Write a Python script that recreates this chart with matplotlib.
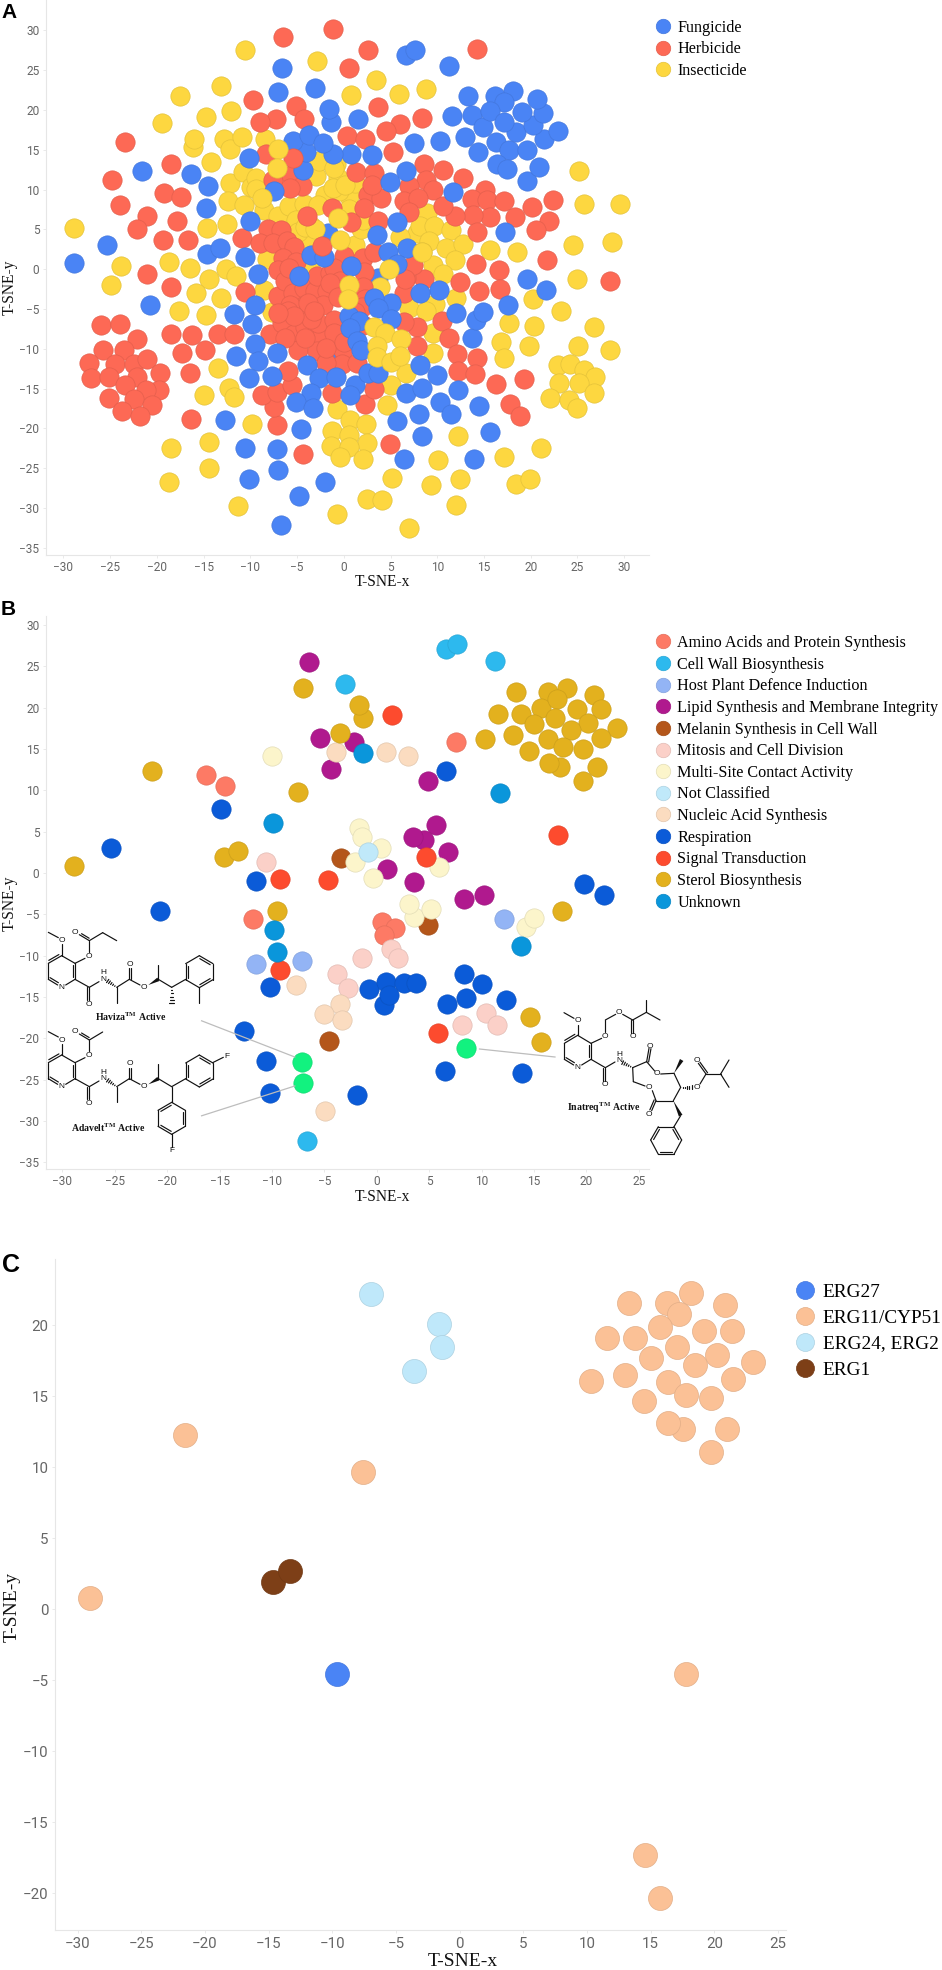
import matplotlib
matplotlib.use("Agg")
import matplotlib.pyplot as plt
from matplotlib.lines import Line2D
from matplotlib.patches import Polygon

plt.rcParams['mathtext.fontset'] = 'stix'
W, H = 942, 1970
SERIF = 'Liberation Serif'
TICKF = 'Roboto'

# ---------- Panel A data ----------
fungicide_under = [(-1.1,-10.2),(-0.6,-0.4),(-1.7,4.6),(3.7,-1.1)]
insecticide = [(-10.6,27.5),(-2.9,26.1),(-13.1,23.0),(-17.5,21.7),(0.8,21.9),(3.4,23.7),(5.9,22.0),(8.8,22.6),(-19.5,18.3),
 (-14.8,19.1),(-12.1,19.8),(-16.1,15.3),(-16.0,16.4),(-12.8,16.4),(-12.2,15.1),(-10.9,16.6),(-8.4,16.3),(-14.2,13.4),
 (-12.2,10.8),(-10.8,12.2),(-9.9,10.3),(-12.4,8.5),(-10.7,8.0),(-12.5,5.7),(-14.6,5.2),(-8.5,7.4),(-7,6.7),(-5.9,7.9),
 (-4.3,8.2),(-5.1,6.2),(-3.5,5.4),(-3.8,3.5),(-3.0,11.7),(-2.7,13.6),(-0.6,11.5),(-0.8,13.2),(-2.0,9.3),(0.6,9.2),(-0.5,9.8),
 (0.5,7.6),(1.2,3.0),(1.8,5.0),(-1.1,12.7),(-4.9,4.7),(2.1,6.2),(1.2,10.8),(7.8,4.5),(-3.6,0.3),
 (-2.75,8.1),(-1.15,10.2),(0.1,10.6),(-4.2,5.3),(-9.4,11.4),(-3.1,5.1),(-9.4,10.1),
 (-28.9,5.2),(-23.8,0.4),(-24.9,-2.0),(-18.7,0.9),(-16.5,0.1),(-12.6,0),(-11.5,-0.9),(-14.4,-1.3),(-15.8,-3.0),(-13.1,-3.6),
 (-17.6,-5.2),(-14.7,-5.8),(-8.5,-2.6),(-7.7,-5.4),(-8.2,1.3),(3.9,-2.3),(8.9,7.1),(8.1,5.4),(9.7,5.4),(11.5,4.9),(6.0,4.0),
 (9.1,3.5),(10.9,2.6),(12.7,3.2),(11.9,1.1),(8.4,2.1),(9.5,0.5),(10.6,-0.6),(15.6,2.4),(18.5,2.1),(24.5,3.0),(28.7,3.4),
 (29.5,8.2),(25.7,8.2),(25.2,12.3),(25.0,-1.3),(20.2,-3.8),(23.2,-5.3),(20.4,-7.2),(26.8,-7.3),(17.7,-6.8),(16.8,-9.1),
 (19.8,-9.7),(17.1,-11.2),(25.1,-9.7),(28.5,-10.2),(12.0,-3.6),(9.8,-4.4),(7.0,-4.9),(8.8,-5.3),(9.5,-8.0),(9.5,-10.5),
 (22.9,-12.0),(24.2,-11.9),(25.7,-12.7),(26.9,-13.6),(23,-14.3),(25.2,-14.3),(26.8,-15.5),(22.1,-16.2),(24.1,-16.4),(25.0,-17.5),
 (6.6,-13.1),(5.0,-14.5),(4.6,-17.1),(-13.5,-12.4),(-12.3,-14.9),(-11.7,-16.1),(-15.0,-15.8),(-18.5,-22.5),(-18.7,-26.7),
 (-14.4,-21.7),(-14.4,-25.0),(-11.3,-29.8),(-9.8,-19.5),(-0.7,-17.6),(0.7,-18.9),(2.4,-19.5),(-1.3,-20.3),(0.6,-20.8),(2.5,-21.8),
 (-1.4,-22.2),(0.6,-22.3),(-0.4,-23.6),(2.1,-23.9),(-0.7,-30.7),(2.5,-28.9),(4.1,-29.0),(5.2,-26.2),(7.0,-32.5),(9.3,-27.1),
 (10.1,-24.0),(12.4,-26.4),(12.0,-29.6),(12.2,-20.9),(17.1,-23.6),(18.4,-27.0),(19.9,-26.3),(21.1,-22.4)]
herbicide = [(-1.2,30.1),(-6.5,29.2),(2.6,27.5),(14.2,27.6),(0.6,25.3),(-9.7,21.2),(-5.1,20.5),(-4.3,18.9),(-7.3,18.8),(-9.0,18.5),
 (3.7,20.3),(8.4,19.0),(6.0,18.2),(4.5,17.4),(0.3,16.7),(2.3,16.4),(5.3,14.7),(-23.4,16.0),(-18.5,13.2),(-24.8,11.2),(-19.2,9.6),
 (-17.4,9.1),(-24.0,8.0),(-21.1,6.7),(-22.1,5.1),(-17.9,6.1),(-19.4,3.7),(-16.7,3.7),(-10.9,3.9),(-21.1,-0.6),(-18.5,-2.2),(-10.6,-2.9),
 (-8.3,14.4),(8.6,13.2),(10.6,12.4),(12.8,11.4),(1.3,12.2),(3.2,12.1),(8.8,11.2),(7.0,10.4),(9.5,9.9),(15.1,10.0),(13.7,8.8),(15.3,8.7),
 (17.1,8.6),(22.4,8.7),(20.1,7.8),(18.3,6.6),(15.6,6.6),(13.8,6.8),(11.9,6.7),(10.6,7.9),(22.0,6.0),(20.6,4.9),(14.2,4.7),(21.7,1.2),
 (14.1,0.7),(16.6,-0.1),(28.5,-1.5),(16.7,-2.5),(14.5,-2.7),(12.4,-1.6),(8.6,-1.2),(6.7,-1.1),(6.4,-3.0),(10.5,-6.5),(7.8,-7.3),
 (11.3,-8.6),(12.1,-10.7),(14.2,-11.2),(12.2,-12.8),(14.0,-13.2),(7.8,-9.7),(16.3,-14.4),(19.3,-13.8),(17.8,-16.9),(18.9,-18.4),
 (4.9,-21.9),(-4.4,-23.2),(-7.1,-19.6),(-16.4,-18.8),(-7.5,-17.3),(-8.8,-15.8),(-7.1,-15.4),(-5.5,-14.5),(-6.0,-12.8),(-1.3,-15.5),
 (2.3,-16.9),(3.2,-15.1),(-26.0,-7.0),(-23.9,-6.9),(-22.1,-8.8),(-18.5,-8.2),(-16.2,-8.3),(-13.5,-8.1),(-11.7,-8.2),(-7.9,-8.2),
 (-25.8,-10.2),(-23.5,-10.2),(-27.3,-11.8),(-24.5,-11.9),(-22.5,-11.9),(-21.1,-11.3),(-17.3,-10.5),(-14.9,-10.1),(-19.7,-13.1),
 (-16.5,-13.1),(-27.0,-13.7),(-25.1,-13.6),(-22.1,-13.5),(-23.4,-14.6),(-19.8,-15.2),(-21.2,-15.2),(-25.1,-16.2),(-22.5,-16.3),
 (-20.5,-17.0),(-23.7,-17.8),(-21.8,-18.5),
 (-7.6,11.2),(-5.6,11.8),(-4.5,10.4),(-5.8,10.2),(-1.3,7.7),(0.8,5.9),(2.6,9.3),(4.0,8.9),(2.2,7.7),(3.7,6.1),(3.0,10.6),(6.4,8.6),
 (7.9,8.9),(7.0,7.2),(-8.1,5.1),(-6.7,4.9),(-9.0,3.3),(-7.6,3.3),(-6.1,3.5),(-5.3,2.8),(-6.5,1.4),(-5.1,0.9),(-7.0,-0.1),(0,1.6),
 (2.0,1.4),(3.2,2.2),(2.2,-0.3),(7.4,0.5),(6.5,-1.3),(-7.0,-3.4),(-6.3,-1.5),(-5.4,-3.0),(-4.3,-2.4),(-3.1,-2.8),(-2.9,-0.9),
 (-1.75,-2.8),(-1.5,-0.5),(-2.2,-4.5),(-4.2,-4.5),(-5.8,-4.5),(2.1,-2.2),(2.3,-3.8),(-6.6,-6.8),(-5.3,-8.2),(-4.2,-7.3),(-2.5,-8.7),
 (-2.8,-6.8),(-1.1,-6.4),(-4.9,-10.1),(-2.9,-10.3),(-0.1,-10.1),(-0.2,-11.9),(-1.9,-11.8),(1.4,-11.8),(-1,-8.0),(6.4,-6.6),(1.9,-4.7),
 (-1.1,0.1),(-0.4,-1.5),(-3.8,-4.3),(-1.5,-1.8),(-6.3,-8.7),(-4.2,-8.7),(-1.9,-9.9),(-3.5,-6.2),(-6,-5.3),(0,-9.1),(-3.2,-5.3),(-5.3,-5.9),
 (-7.0,-5.5),(-5.9,0.1),(1.2,-5.4),(2.0,-7.0),(-0.6,-3.5)]
fungicide = [(-28.9,0.8),(-25.3,3.0),(-21.6,12.3),(-20.7,-4.5),(-16.4,11.9),(-14.5,10.5),(-14.8,7.7),(-14.6,1.9),(-13.2,2.6),(-10.6,1.5),
 (-10.0,6.0),(-10.1,14.0),(-7.5,9.8),(-9.2,-0.6),(-9.5,-4.5),(-11.8,-5.6),(-9.8,-6.9),(-9.5,-9.4),(-11.5,-10.9),(-9.2,-11.5),(-7.2,-10.5),
 (-10.2,-13.7),(-7.7,-13.4),(-3.9,-12.0),(-2.7,-13.7),(-0.8,-13.6),(1.2,-14.5),(2.6,-13.1),(3.7,-13.1),(0.7,-15.8),(-3.5,-15.6),(-5.1,-16.7),
 (-3.3,-17.5),(-4.6,-20.1),(-12.7,-19.0),(-10.6,-22.5),(-7.2,-22.6),(-7.0,-25.2),(-10.2,-26.3),(-2.0,-26.7),(-4.8,-28.5),(-6.7,-32.1),
 (6.4,-23.8),(8.4,-21.0),(5.7,-19.1),(8.0,-18.2),(10.3,-16.7),(11.5,-18.2),(14.5,-17.2),(13.9,-23.8),(15.6,-20.4),(6.7,-15.6),(8.4,-14.9),
 (12.2,-15.2),(10.0,-13.3),(8.2,-12.1),(13.7,-8.6),(14.1,-6.4),(14.9,-5.4),(17.6,-4.5),(19.6,-1.3),(21.6,-2.6),(17.2,4.7),(12.0,-5.5),
 (10.2,-2.6),(8.2,-3.0),(5.1,-4.3),(3.2,-3.6),(3.7,-4.9),(5.0,-6.3),(0.5,-5.9),(1.6,-6.5),(0.7,-7.4),(1.4,-9.0),(1.8,-10.2),(-4.8,-0.8),
 (-3.5,1.8),(-2.1,1.5),(3.5,4.3),(5.7,5.9),(6.8,2.6),(4.7,2.1),(5.7,0.6),(0.8,0.4),(4.9,10.9),(6.6,12.3),(11.7,9.7),(7.5,15.8),(10.3,16.1),
 (3.0,14.3),(0.8,14.5),(-1.2,14.4),(-4.4,12.5),(-4.0,14.7),(-5.4,16.1),(-3.7,16.8),(-2.2,15.9),(-1.4,18.5),(-1.6,20.1),(1.5,18.9),(-7.0,22.3),
 (-3.1,22.8),(-6.6,25.3),(6.6,26.9),(7.6,27.5),(11.2,25.5),(11.6,19.2),(13.3,21.7),(13.7,19.3),(14.9,17.8),(13.0,16.6),(14.4,14.7),(16.3,16.0),
 (17.7,15.0),(19.6,15.0),(21.4,16.3),(18.4,17.2),(20.2,18.1),(22.9,17.4),(21.3,19.6),(19.1,19.7),(20.7,21.4),(18.1,22.4),(16.2,21.7),(17.1,21.0),
 (15.6,19.9),(17.1,18.5),(16.4,13.2),(17.5,12.6),(19.6,11.1),(20.9,12.8)]
herbicide_over = [(-5.4,13.9),(-3.9,6.7),(-2.3,2.9)]
insecticide_over = [(-7.0,15.1),(-7.1,12.7),(-8.8,8.9),(-0.6,6.4),(-0.4,3.6),(8.4,2.2),(4.8,0),(0.5,-2.0),(0.4,-3.7),(3.2,-7.3),(4.4,-8.0),
 (6.1,-8.8),(3.6,-9.7),(3.6,-11.0),(5.0,-11.7),(6.0,-10.9)]

# ---------- Panel B data ----------
moa_names = ['Amino Acids and Protein Synthesis','Cell Wall Biosynthesis','Host Plant Defence Induction','Lipid Synthesis and Membrane Integrity',
 'Melanin Synthesis in Cell Wall','Mitosis and Cell Division','Multi-Site Contact Activity','Not Classified','Nucleic Acid Synthesis',
 'Respiration','Signal Transduction','Sterol Biosynthesis','Unknown']
moa_colors = ['#FD7A65','#2DB9EE','#93B4F5','#B0198E','#B4561A','#FBD0C8','#FCF5CB','#C0E9FA','#FBDCC0','#0B5BD8','#FD4B2E','#E3B11E','#0A96DB']
amino = [(-16.3,11.9),(-14.5,10.5),(-11.8,-5.6),(7.6,15.8),(0.5,-5.9),(1.7,-6.6),(0.7,-7.5)]
cell_wall = [(6.6,27.1),(7.7,27.7),(11.3,25.6),(-3.0,22.9),(-6.7,-32.4)]
host = [(-11.5,-11.0),(-7.1,-10.6),(12.1,-5.6)]
lipid = [(-6.5,25.5),(-5.4,16.3),(-2.2,15.9),(-4.4,12.6),(4.9,11.1),(5.7,5.8),(4.5,4.0),(3.5,4.4),(6.8,2.5),(1.0,0.5),(3.6,-1.1),(8.3,-3.1),(10.2,-2.6)]
melanin = [(-3.4,1.8),(4.9,-6.3),(-4.6,-20.3)]
mitosis = [(-10.6,1.4),(-1.4,-10.3),(1.4,-9.2),(2.0,-10.3),(-3.8,-12.2),(-2.7,-13.9),(10.4,-16.9),(8.1,-18.4),(11.5,-18.4)]
multisite = [(-10,14.2),(-1.7,5.5),(-1.4,4.4),(0.4,3.0),(-2.1,1.4),(5.9,0.7),(-0.4,-0.6),(3.6,-5.3),(3.1,-3.7),(5.2,-4.3),(14.2,-6.5),(15,-5.4)]
not_classified = [(-0.8,2.5)]
nucleic = [(-3.9,14.7),(0.9,14.7),(3.0,14.2),(-7.7,-13.6),(-3.5,-15.8),(-5.0,-17.0),(-3.3,-17.8),(-4.9,-28.8)]
respiration = [(-25.4,3.0),(-20.7,-4.6),(-14.9,7.8),(-11.5,-0.9),(-10.2,-13.8),(-12.7,-19.1),(-10.6,-22.7),(-10.2,-26.6),(-1.9,-26.9),(6.6,12.4),
 (-0.7,-14.0),(0.9,-13.2),(2.6,-13.3),(3.7,-13.3),(0.7,-16),(1.2,-14.8),(6.7,-15.8),(8.3,-12.2),(8.5,-15.1),(10,-13.4),(12.3,-15.3),(6.5,-24),(13.9,-24.2),
 (19.8,-1.3),(21.7,-2.6)]
signal = [(1.5,19.1),(17.3,4.6),(4.7,2.0),(-9.2,-0.7),(-4.7,-0.8),(-9.2,-11.7),(5.8,-19.3)]
sterol = [(-7,22.4),(-1.3,18.8),(-1.7,20.3),(-3.5,16.9),(-21.5,12.4),(-7.5,9.8),(-14.6,1.9),(-13.2,2.7),(-28.9,0.8),(-9.5,-4.6),(17.7,-4.6),(14.6,-17.4),(15.7,-20.4),
 (13.3,21.9),(16.3,21.9),(18.2,22.4),(20.7,21.6),(15.7,20),(17.2,21),(11.6,19.3),(13.8,19.3),(19.1,19.8),(21.4,19.8),(17,18.8),(15,18),(20.2,18.1),(22.9,17.6),
 (18.5,17.3),(13,16.7),(10.3,16.2),(16.3,16.2),(21.4,16.3),(17.8,15.2),(19.7,15),(14.5,14.8),(17.5,12.8),(16.4,13.3),(21,12.8),(19.7,11.1)]
unknown = [(-1.3,14.5),(11.8,9.7),(-9.9,6.0),(-9.8,-6.9),(-9.5,-9.5),(13.8,-8.8)]
moa_series = [amino,cell_wall,host,lipid,melanin,mitosis,multisite,not_classified,nucleic,respiration,signal,sterol,unknown]
highlighted = [(-7.1,-22.8),(-7,-25.4),(8.5,-21.2)]

# ---------- Panel C data ----------
erg_names = ['ERG27','ERG11/CYP51','ERG24, ERG2','ERG1']
erg_colors = ['#4A84F5','#FBC196','#BFE8FA','#7D3F17']
erg27 = [(-9.6,-4.55)]
erg11 = [(-21.6,12.3),(-7.6,9.7),(-29,0.8),(17.8,-4.55),(14.55,-17.3),(15.7,-20.3),(13.3,21.6),(16.3,21.6),(18.2,22.3),(20.8,21.4),(17.2,20.8),
 (15.7,19.9),(11.6,19.1),(13.75,19.1),(19.2,19.6),(21.4,19.6),(17.1,18.5),(15,17.7),(20.2,17.9),(23,17.4),(18.5,17.2),(13,16.5),(10.35,16.1),
 (16.35,16),(21.45,16.2),(17.8,15.1),(19.7,14.9),(14.5,14.7),(17.5,12.7),(16.4,13.1),(21,12.7),(19.7,11.1)]
erg24 = [(-7.0,22.2),(-1.65,20.1),(-1.4,18.5),(-3.6,16.8)]
erg1 = [(-14.7,1.9),(-13.3,2.7)]
erg_series = [erg27,erg11,erg24,erg1]

a_ticks_x = list(range(-30,31,5)); a_ticks_y = list(range(-35,31,5))
b_ticks_x = list(range(-30,26,5)); b_ticks_y = list(range(-35,31,5))
c_ticks_x = list(range(-30,26,5)); c_ticks_y = list(range(-20,21,5))

fig = plt.figure(figsize=(W/100, H/100), dpi=100)

def darker(c, f=0.9):
    r, g, b = matplotlib.colors.to_rgb(c)
    return (r*f, g*f, b*f)

def panel(box, xlim, ylim, xt, yt, xl_px, yl_px, label_fs=11.2, tick_fs=8.6):
    l, t, r, b = box
    ax = fig.add_axes([l/W, 1-b/H, (r-l)/W, (b-t)/H])
    ax.set_xlim(*xlim); ax.set_ylim(*ylim)
    ax.set_xticks(xt); ax.set_yticks(yt)
    for s in ('top','right'):
        ax.spines[s].set_visible(False)
    for s in ('left','bottom'):
        ax.spines[s].set_color('#e6e6e6'); ax.spines[s].set_linewidth(0.8)
    ax.tick_params(length=2, width=0.6, color='#e6e6e6', labelcolor='#666666', labelsize=tick_fs, pad=2.5)
    for lab in ax.get_xticklabels()+ax.get_yticklabels():
        lab.set_fontfamily(TICKF)
    ax.set_xlabel('T-SNE-x', family=SERIF, fontsize=label_fs, color='#111111')
    ax.set_ylabel('T-SNE-y', family=SERIF, fontsize=label_fs, color='#111111')
    ax.xaxis.set_label_coords((xl_px[0]-l)/(r-l), (b-xl_px[1])/(b-t), transform=ax.transAxes)
    ax.yaxis.set_label_coords((yl_px[0]-l)/(r-l), (b-yl_px[1])/(b-t), transform=ax.transAxes)
    ax.xaxis.label.set_va('center'); ax.yaxis.label.set_va('center')
    ax.patch.set_alpha(0)
    return ax

def dots(ax, pts, color, d, z, edge=None):
    s = (d*0.72)**2
    ax.scatter([p[0] for p in pts], [p[1] for p in pts], s=s, c=color,
               edgecolors=edge or darker(color), linewidths=0.5, zorder=z, clip_on=False)

def legend(ax, names, colors, x, y, fs, spacing, msize, pad):
    hs = [Line2D([], [], ls='none', marker='o', ms=msize*0.72, mfc=c, mec=darker(c), mew=0.5, label=n)
          for n, c in zip(names, colors)]
    return ax.legend(handles=hs, loc='upper left', bbox_to_anchor=(x/W, 1-y/H), bbox_transform=fig.transFigure,
              frameon=False, prop={'family':SERIF,'size':fs}, labelspacing=spacing, borderpad=0, borderaxespad=0,
              handletextpad=pad, handlelength=1.3)

# Panel A
axA = panel((45.7,0,648.5,555), (-31.9,32.6), (-35.9,33.8), a_ticks_x, a_ticks_y, (382,582), (10,287))
Y,R,B_ = '#FDD740','#FD6955','#4A84F5'
dots(axA, fungicide_under, B_, 19.3, 2)
dots(axA, insecticide, Y, 19.3, 3)
dots(axA, herbicide, R, 19.3, 4)
dots(axA, fungicide, B_, 19.3, 5)
dots(axA, herbicide_over, R, 19.3, 6)
dots(axA, insecticide_over, Y, 19.3, 7)
legend(axA, ['Fungicide','Herbicide','Insecticide'], [B_,R,Y], 652.5, 19.5, 11.6, 0.35, 14.5, 0.25)

# Panel B
axB = panel((45.7,616,648.6,1169), (-31.6,25.95), (-35.8,31.1), b_ticks_x, b_ticks_y, (382,1197), (10,903))
for i, (pts, c) in enumerate(zip(moa_series, moa_colors)):
    dots(axB, pts, c, 19.3, 3+i)
dots(axB, highlighted, '#12F27F', 19.3, 20)
legend(axB, moa_names, moa_colors, 652.5, 635, 11.6, 0.35, 14.5, 0.25)

# Panel C
axC = panel((54.8,1258.5,786.4,1930.4), (-31.8,25.66), (-22.6,24.7), c_ticks_x, c_ticks_y, (463,1962), (12,1607), 14, 10.8)
for i, (pts, c) in enumerate(zip(erg_series, erg_colors)):
    dots(axC, pts, c, 24, 3+i)
legend(axC, erg_names, erg_colors, 792.5, 1283, 13.9, 0.44, 18, 0.26)

# Overlay in figure pixels: panel letters and structure drawings
ov = fig.add_axes([0,0,1,1], zorder=30)
ov.set_xlim(0,W); ov.set_ylim(H,0); ov.axis('off'); ov.patch.set_alpha(0)
for t,x,y,fs in [('A',1,18,15),('B',1,615,15),('C',2,1272,18)]:
    ov.text(x,y,t,family='Liberation Sans',weight='bold',fontsize=fs,color='black',va='baseline',ha='left')
for a,b in [((201.6,1020.8),(294.8,1057)),((201.6,1115.8),(294.8,1086)),((479.5,1049),(555,1057))]:
    ov.plot([a[0],b[0]],[a[1],b[1]],color='#bdbdbd',lw=0.9)

LW = 0.85
def bond(o,a,b):
    ov.plot([o[0]+a[0]/3,o[0]+b[0]/3],[o[1]+a[1]/3,o[1]+b[1]/3],color='#111111',lw=LW,solid_capstyle='round')
def dbl(o,a,b,off=7,shrink=0.12):
    dx,dy=b[0]-a[0],b[1]-a[1]; L=(dx*dx+dy*dy)**.5
    nx,ny=-dy/L*off,dx/L*off
    bond(o,(a[0]+nx+dx*shrink,a[1]+ny+dy*shrink),(b[0]+nx-dx*shrink,b[1]+ny-dy*shrink))
def wedge(o,a,b,w=7):
    dx,dy=b[0]-a[0],b[1]-a[1]; L=(dx*dx+dy*dy)**.5
    nx,ny=-dy/L*w,dx/L*w
    pts=[a,(b[0]+nx,b[1]+ny),(b[0]-nx,b[1]-ny)]
    ov.add_patch(Polygon([(o[0]+p[0]/3,o[1]+p[1]/3) for p in pts],color='#111111',lw=0))
def hashed(o,a,b,w=8,n=5):
    dx,dy=b[0]-a[0],b[1]-a[1]; L=(dx*dx+dy*dy)**.5
    nx,ny=-dy/L,dx/L
    for i in range(1,n+1):
        f=i/n; h=w*f
        c=(a[0]+dx*f,a[1]+dy*f)
        bond(o,(c[0]+nx*h,c[1]+ny*h),(c[0]-nx*h,c[1]-ny*h))
def atom(o,s,p,fs=6.0):
    ov.text(o[0]+p[0]/3,o[1]+p[1]/3,s,family='Liberation Sans',fontsize=fs,ha='center',va='center',color='#111111',linespacing=0.85)
def ring(o,pts,inner,off=7):
    n=len(pts)
    for i in range(n):
        bond(o,pts[i],pts[(i+1)%n])
    for i in inner:
        dbl(o,pts[i],pts[(i+1)%n],off)
def hexa(cx,top):
    return [(cx,top),(cx+41,top+24),(cx+41,top+72),(cx,top+96),(cx-41,top+72),(cx-41,top+24)]

def pyridine_left(o,dy):
    bond(o,(25,97+dy),(55,113+dy)); atom(o,'O',(65,122+dy)); bond(o,(65,133+dy),(65,167+dy))
    bond(o,(65,167+dy),(105,190+dy)); bond(o,(105,190+dy),(105,238+dy)); bond(o,(105,238+dy),(77,255+dy))
    bond(o,(53,255+dy),(25,238+dy)); bond(o,(25,238+dy),(25,190+dy)); bond(o,(25,190+dy),(65,167+dy))
    dbl(o,(105,190+dy),(105,238+dy),7); dbl(o,(25,238+dy),(53,255+dy),-7,0.05); dbl(o,(25,190+dy),(65,167+dy),-7)
    atom(o,'N',(65,263+dy))
    bond(o,(105,190+dy),(135,175+dy)); atom(o,'O',(148,168+dy)); bond(o,(148,155+dy),(148,122+dy))
    bond(o,(148,122+dy),(118,104+dy)); dbl(o,(148,122+dy),(118,104+dy),6); atom(o,'O',(106,97+dy))
    bond(o,(105,238+dy),(148,262+dy)); bond(o,(148,262+dy),(148,300+dy)); dbl(o,(148,262+dy),(148,300+dy),6,0)
    atom(o,'O',(148,312+dy)); bond(o,(148,262+dy),(177,245+dy)); atom(o,'H\nN',(190,228+dy))
    hashed(o,(230,262+dy),(203,243+dy),6)
    bond(o,(230,262+dy),(230,308+dy)); bond(o,(230,262+dy),(268,238+dy)); bond(o,(268,238+dy),(268,205+dy))
    dbl(o,(268,238+dy),(268,205+dy),6,0); atom(o,'O',(271,192+dy)); bond(o,(268,238+dy),(300,255+dy)); atom(o,'O',(313,263+dy))
    wedge(o,(325,255+dy),(355,238+dy),6); bond(o,(355,238+dy),(355,195+dy)); bond(o,(355,238+dy),(395,262+dy))
    bond(o,(395,262+dy),(437,238+dy))

LABEL = dict(family=SERIF,weight='bold',fontsize=7.0,ha='center',va='center',color='#111111')
# Haviza
o7=(40,900)
pyridine_left(o7,0)
bond(o7,(148,122),(188,98)); bond(o7,(188,98),(230,122))
hashed(o7,(395,262),(395,308),7)
ring(o7,hexa(478,167),[0,2,4])
bond(o7,(478,262),(478,308))
ov.text(40+272/3,900+350/3,r'Haviza$^{\mathbf{TM}}$ Active',**LABEL)
# Adavelt
pyridine_left(o7,298)
bond(o7,(148,420),(188,396))
ring(o7,hexa(478,465),[0,2,4])
bond(o7,(518,488),(550,472)); atom(o7,'F',(560,468))
bond(o7,(395,560),(395,607)); ring(o7,hexa(395,607),[1,3,5])
bond(o7,(395,703),(395,740)); atom(o7,'F',(395,752))
ov.text(40+204/3,900+682/3,r'Adavelt$^{\mathbf{TM}}$ Active',**LABEL)
# Inatreq
o8=(550,1000)
bond(o8,(42,38),(72,55)); atom(o8,'O',(83,62)); bond(o8,(83,75),(83,106))
bond(o8,(83,106),(123,130)); bond(o8,(123,130),(123,178)); bond(o8,(123,178),(95,195)); bond(o8,(71,195),(43,178)); bond(o8,(43,178),(43,130)); bond(o8,(43,130),(83,106))
dbl(o8,(123,130),(123,178),7); dbl(o8,(43,178),(71,195),-7,0.05); dbl(o8,(43,130),(83,106),-7)
atom(o8,'N',(83,203))
bond(o8,(123,130),(155,115)); atom(o8,'O',(166,108)); bond(o8,(166,95),(166,60)); bond(o8,(166,60),(197,43)); atom(o8,'O',(207,38))
bond(o8,(218,43),(248,60)); bond(o8,(248,60),(248,100)); dbl(o8,(248,60),(248,100),6,0); atom(o8,'O',(248,110))
bond(o8,(248,60),(289,37)); bond(o8,(289,37),(289,0)); bond(o8,(289,37),(330,60))
bond(o8,(123,178),(166,203)); bond(o8,(166,203),(166,243)); dbl(o8,(166,203),(166,243),6,0); atom(o8,'O',(166,252))
bond(o8,(166,203),(195,186)); atom(o8,'H\nN',(207,172)); hashed(o8,(248,203),(218,188),6)
bond(o8,(248,203),(290,185)); bond(o8,(290,185),(297,145)); dbl(o8,(290,185),(297,145),6,0); atom(o8,'O',(301,138))
bond(o8,(290,185),(314,213)); atom(o8,'O',(322,220)); bond(o8,(332,222),(372,220))
wedge(o8,(372,220),(395,180),6); bond(o8,(372,220),(392,262)); hashed(o8,(392,262),(425,262),6); atom(o8,'O',(440,262))
bond(o8,(450,252),(468,222)); bond(o8,(468,222),(445,190)); dbl(o8,(468,222),(445,190),6,0); atom(o8,'O',(441,180))
bond(o8,(468,222),(512,222)); bond(o8,(512,222),(537,180)); bond(o8,(512,222),(537,262))
bond(o8,(248,203),(250,245)); bond(o8,(250,245),(285,258)); atom(o8,'O',(297,262)); bond(o8,(307,272),(318,302))
bond(o8,(318,302),(305,332)); dbl(o8,(318,302),(305,332),6,0); atom(o8,'O',(298,345))
bond(o8,(318,302),(370,302)); bond(o8,(370,302),(392,262)); wedge(o8,(370,302),(392,347),6); bond(o8,(392,347),(372,380))
ring(o8,[(372,380),(395,420),(372,463),(325,463),(302,420),(325,380)],[0,2,4])
ov.text(550+163/3,1000+322/3,r'Inatreq$^{\mathbf{TM}}$ Active',**LABEL)

fig.savefig('out.png', dpi=100, facecolor='white')
